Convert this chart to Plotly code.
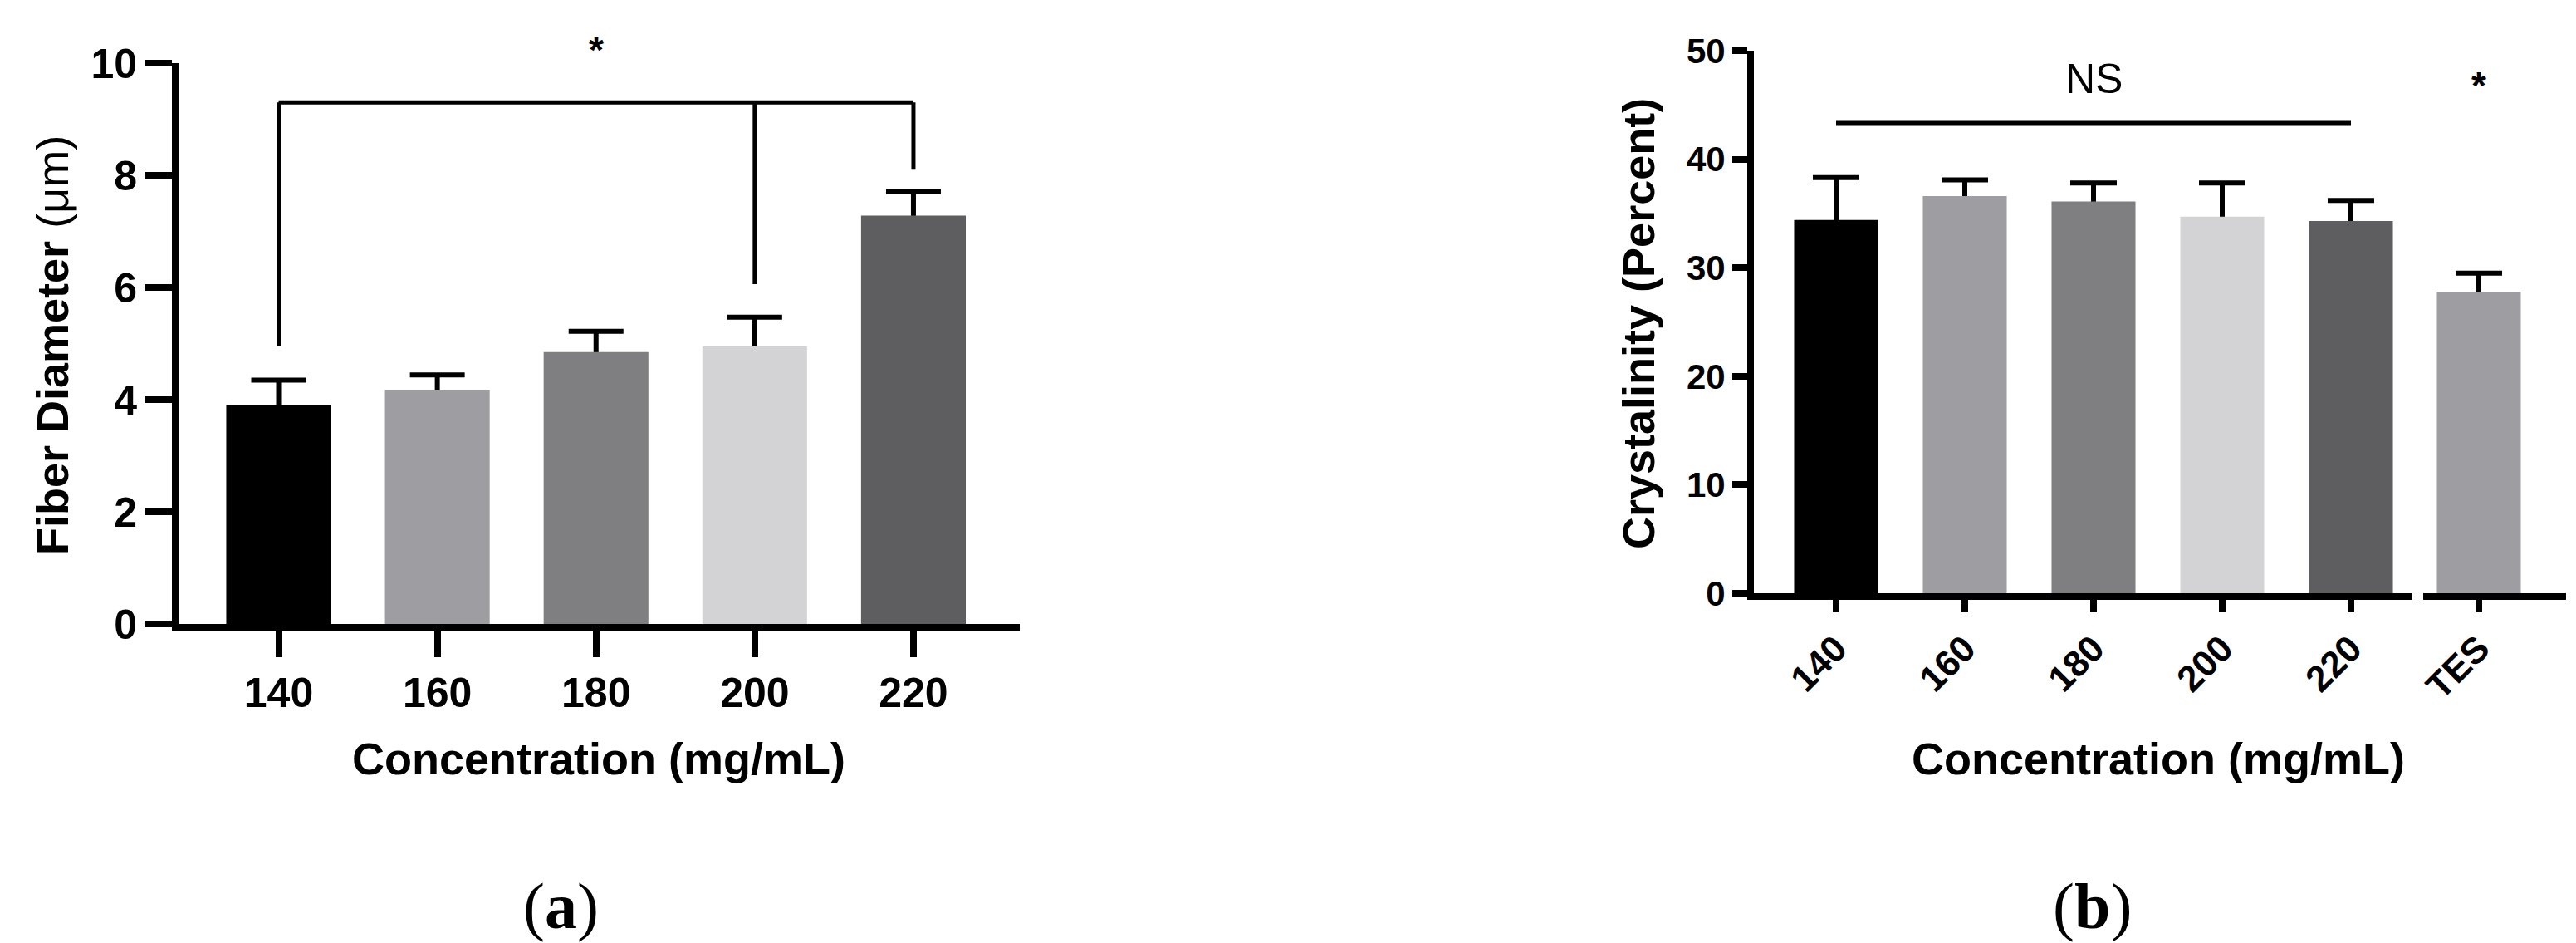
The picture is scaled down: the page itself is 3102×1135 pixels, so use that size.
import plotly.graph_objects as go

W, H = 3102, 1135

# ---------------- data ----------------
conc_a = ["140", "160", "180", "200", "220"]
diam_mean = [3.90, 4.17, 4.85, 4.95, 7.28]
diam_err = [0.45, 0.27, 0.37, 0.52, 0.43]
colors_a = ["#000000", "#9e9ea2", "#7f7f81", "#d3d3d5", "#5e5e60"]

conc_b = ["140", "160", "180", "200", "220"]
cryst_mean = [34.4, 36.6, 36.1, 34.7, 34.3]
cryst_err = [3.9, 1.5, 1.7, 3.1, 1.9]
colors_b = ["#000000", "#9e9ea2", "#7f7f81", "#d3d3d5", "#5e5e60"]

tes_label = ["TES"]
tes_mean = [27.8]
tes_err = [1.7]
tes_color = ["#9e9ea2"]

# significance annotations
bracket_top = 9.30
bracket_legs = {"140": 4.96, "200": 6.06, "220": 8.10}
ns_line_y = 43.3
ns_text_y = 47.4
star_b_y = 46.8

FONT = "Arial, Liberation Sans, Helvetica, sans-serif"
SERIF = "Times New Roman, Liberation Serif, serif"


def px_x(p):
    return p / W


def px_y(p):
    return 1 - p / H


fig = go.Figure()

# ---------- panel (a) ----------
# error bars on base axes (drawn underneath the bars, which sit on overlay axes)
fig.add_trace(go.Scatter(
    x=conc_a, y=diam_mean, mode="markers", marker=dict(size=1, opacity=0),
    error_y=dict(type="data", symmetric=False, array=diam_err, arrayminus=diam_mean,
                 color="black", thickness=6, width=33),
    xaxis="x", yaxis="y", showlegend=False, hoverinfo="skip"))
fig.add_trace(go.Bar(
    x=conc_a, y=diam_mean, marker=dict(color=colors_a, line=dict(width=0)),
    width=0.66, xaxis="x4", yaxis="y4", showlegend=False))

# ---------- panel (b) ----------
fig.add_trace(go.Scatter(
    x=conc_b, y=cryst_mean, mode="markers", marker=dict(size=1, opacity=0),
    error_y=dict(type="data", symmetric=False, array=cryst_err, arrayminus=cryst_mean,
                 color="black", thickness=6, width=28),
    xaxis="x2", yaxis="y2", showlegend=False, hoverinfo="skip"))
fig.add_trace(go.Bar(
    x=conc_b, y=cryst_mean, marker=dict(color=colors_b, line=dict(width=0)),
    width=0.652, xaxis="x5", yaxis="y5", showlegend=False))
fig.add_trace(go.Scatter(
    x=tes_label, y=tes_mean, mode="markers", marker=dict(size=1, opacity=0),
    error_y=dict(type="data", symmetric=False, array=tes_err, arrayminus=tes_mean,
                 color="black", thickness=6, width=28),
    xaxis="x3", yaxis="y2", showlegend=False, hoverinfo="skip"))
fig.add_trace(go.Bar(
    x=tes_label, y=tes_mean, marker=dict(color=tes_color, line=dict(width=0)),
    width=0.652, xaxis="x6", yaxis="y5", showlegend=False))

# ---------- geometry ----------
a_x_dom = [px_x(207), px_x(1220)]
a_y_dom = [px_y(743), px_y(68)]
a_x_rng = [-0.6306, 4.67]
b1_x_dom = [px_x(2104), px_x(2897)]
b2_x_dom = [px_x(2910), px_x(3082)]
b_y_dom = [px_y(706), px_y(53)]
b1_x_rng = [-0.6387, 4.4774]
b2_x_rng = [-0.4323, 0.6774]

tick_a = dict(family=FONT, size=50, color="black", weight="bold")
tick_by = dict(family=FONT, size=42, color="black", weight="bold")
tick_bx = dict(family=FONT, size=44, color="black", weight="bold")
title_font = dict(family=FONT, size=54, color="black")

common = dict(showgrid=False, zeroline=False, showline=True, linecolor="black",
              ticks="outside", tickcolor="black", fixedrange=True)

fig.update_layout(
    width=W, height=H,
    margin=dict(l=0, r=0, t=0, b=0, autoexpand=False),
    paper_bgcolor="white", plot_bgcolor="rgba(0,0,0,0)",
    barmode="overlay",
    xaxis=dict(**common, domain=a_x_dom, range=a_x_rng, type="category",
               categoryorder="array", categoryarray=conc_a,
               linewidth=8, ticklen=32, tickwidth=8, tickfont=tick_a, anchor="y"),
    yaxis=dict(**common, domain=a_y_dom, range=[0, 10], tickvals=[0, 2, 4, 6, 8, 10],
               linewidth=8, ticklen=32, tickwidth=8, tickfont=tick_a, anchor="x"),
    xaxis4=dict(domain=a_x_dom, range=a_x_rng, type="category", categoryorder="array",
                categoryarray=conc_a, overlaying="x", visible=False, anchor="y4"),
    yaxis4=dict(domain=a_y_dom, range=[0, 10], overlaying="y", visible=False, anchor="x4"),

    xaxis2=dict(**common, domain=b1_x_dom, range=b1_x_rng, type="category",
                categoryorder="array", categoryarray=conc_b,
                linewidth=8, ticklen=15, tickwidth=8, tickfont=tick_bx, tickangle=-45,
                anchor="y2"),
    xaxis3=dict(**common, domain=b2_x_dom, range=b2_x_rng, type="category",
                linewidth=8, ticklen=15, tickwidth=8, tickfont=tick_bx, tickangle=-45,
                anchor="y2"),
    yaxis2=dict(**common, domain=b_y_dom, range=[0, 50], tickvals=[0, 10, 20, 30, 40, 50],
                linewidth=8, ticklen=18, tickwidth=8, tickfont=tick_by, anchor="x2"),
    xaxis5=dict(domain=b1_x_dom, range=b1_x_rng, type="category", categoryorder="array",
                categoryarray=conc_b, overlaying="x2", visible=False, anchor="y5"),
    xaxis6=dict(domain=b2_x_dom, range=b2_x_rng, type="category",
                overlaying="x3", visible=False, anchor="y5"),
    yaxis5=dict(domain=b_y_dom, range=[0, 50], overlaying="y2", visible=False, anchor="x5"),
)

# ---------- significance bracket (a) ----------
shapes = []
idx_a = {c: i for i, c in enumerate(conc_a)}
shapes.append(dict(type="line", xref="x", yref="y", x0=idx_a["140"], x1=idx_a["220"],
                   y0=bracket_top, y1=bracket_top, line=dict(color="black", width=5)))
for c, bottom in bracket_legs.items():
    shapes.append(dict(type="line", xref="x", yref="y", x0=idx_a[c], x1=idx_a[c],
                       y0=bracket_top, y1=bottom, line=dict(color="black", width=5)))
# NS line (b)
idx_b = {c: i for i, c in enumerate(conc_b)}
shapes.append(dict(type="line", xref="x2", yref="y2", x0=idx_b["140"], x1=idx_b["220"],
                   y0=ns_line_y, y1=ns_line_y, line=dict(color="black", width=6)))
fig.update_layout(shapes=shapes)

C = dict(xanchor="center", yanchor="middle", showarrow=False)
annotations = [
    # panel (a) texts
    dict(text="<b>*</b>", x=idx_a["180"], y=px_y(52), xref="x", yref="paper",
         font=dict(family=FONT, size=46, color="black"), **C),
    dict(text="<b>Concentration (mg/mL)</b>", x=px_x(713), y=px_y(905),
         xref="paper", yref="paper", font=title_font, **C),
    dict(text="<b>Fiber Diameter </b>(μm)", x=px_x(55), y=px_y(408), textangle=-90,
         xref="paper", yref="paper", font=title_font, **C),
    # panel (b) texts
    dict(text="NS", x=idx_b["180"], y=ns_text_y, xref="x2", yref="y2",
         font=dict(family=FONT, size=50, color="black"), **C),
    dict(text="<b>*</b>", x=0, y=star_b_y, xref="x3", yref="y2",
         font=dict(family=FONT, size=46, color="black"), **C),
    dict(text="<b>Concentration (mg/mL)</b>", x=px_x(2591), y=px_y(905),
         xref="paper", yref="paper", font=title_font, **C),
    dict(text="<b>Crystalinity (Percent)</b>", x=px_x(1965), y=px_y(382), textangle=-90,
         xref="paper", yref="paper", font=title_font, **C),
    # panel labels
    dict(text="(<b>a</b>)", x=px_x(667), y=px_y(1082), xref="paper", yref="paper",
         font=dict(family=SERIF, size=78, color="black"), **C),
    dict(text="(<b>b</b>)", x=px_x(2511), y=px_y(1082), xref="paper", yref="paper",
         font=dict(family=SERIF, size=78, color="black"), **C),
]
fig.update_layout(annotations=annotations)

fig.write_html("out.html")
